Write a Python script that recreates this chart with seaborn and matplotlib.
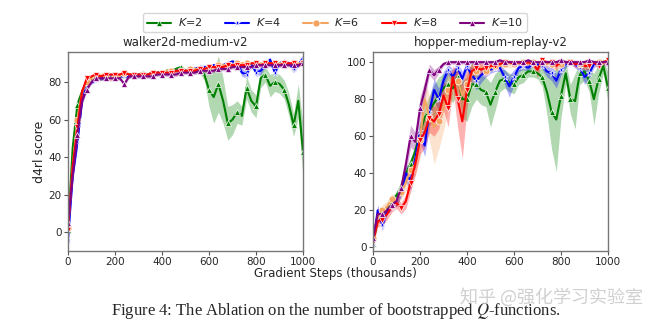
import numpy as np
import pandas as pd
import matplotlib
matplotlib.use("Agg")
import matplotlib.pyplot as plt
import seaborn as sns

# Evaluation points (thousands of gradient steps)
steps = list(range(0, 1001, 20))
k_values = [2, 4, 6, 8, 10]

# ---- walker2d-medium-v2: mean score and spread per ensemble size ----
walker_k2 = [1, 45, 68, 75, 80, 82, 82, 82, 83, 83, 84, 83, 84, 84, 84, 84, 85, 84, 85, 85,
             85, 86, 86, 87, 88, 86, 86, 86, 86, 84, 76, 72, 79, 70, 58, 60, 64, 62, 77, 70,
             67, 82, 84, 78, 80, 79, 76, 68, 57, 70, 43]
walker_k2_sd = [1, 3, 3, 2, 1, 1, 1, 1, 1, 1, 1, 1, 1, 1, 1, 1, 1, 1, 1, 1,
                1, 1, 1, 1, 1, 1, 1, 1, 1, 3, 9, 14, 15, 12, 9, 8, 6, 5, 6, 6,
                6, 5, 4, 6, 5, 5, 5, 6, 6, 9, 14]
walker_k4 = [-4, 30, 48, 70, 78, 80, 81, 82, 82, 83, 83, 83, 83, 83, 84, 84, 84, 84, 85, 85,
             85, 85, 86, 86, 86, 86, 87, 87, 88, 88, 88, 89, 89, 89, 90, 91, 90, 85, 84, 90,
             85, 86, 89, 92, 85, 90, 91, 90, 87, 89, 93]
walker_k4_sd = [2, 3, 3, 2, 1, 1, 1, 1, 1, 1, 1, 1, 1, 1, 1, 1, 1, 1, 1, 1,
                1, 1, 1, 1, 1, 1, 1, 1, 1, 1, 1, 1, 1, 1, 1, 1, 1, 2, 2, 1,
                2, 2, 1, 1, 2, 1, 1, 1, 2, 1, 1]
walker_k6 = [2, 35, 60, 75, 80, 82, 82, 83, 84, 82, 84, 83, 85, 84, 84, 84, 84, 84, 85, 85,
             85, 86, 86, 86, 86, 86, 87, 87, 87, 87, 88, 88, 89, 89, 89, 89, 90, 90, 90, 90,
             90, 90, 90, 90, 90, 90, 90, 89, 90, 90, 90]
walker_k6_sd = [2, 3, 3, 2, 1, 1, 2, 2, 2, 2, 1, 1, 1, 1, 1, 1, 1, 1, 1, 1,
                1, 1, 1, 1, 1, 1, 1, 1, 1, 1, 1, 1, 2, 1, 1, 1, 1, 1, 1, 1,
                1, 1, 1, 1, 1, 1, 1, 1, 1, 1, 1]
walker_k8 = [1, 35, 56, 75, 82, 83, 84, 83, 84, 84, 84, 84, 85, 84, 84, 84, 84, 84, 85, 85,
             85, 85, 85, 86, 86, 86, 86, 86, 87, 87, 88, 88, 88, 88, 89, 89, 89, 89, 89, 90,
             90, 89, 90, 90, 90, 89, 90, 90, 90, 89, 90]
walker_k8_sd = [1, 3, 3, 2, 1, 1, 1, 1, 1, 1, 1, 1, 1, 1, 1, 1, 1, 1, 1, 1,
                1, 1, 1, 1, 1, 1, 1, 1, 1, 1, 1, 1, 1, 1, 1, 1, 1, 1, 1, 1,
                1, 1, 1, 1, 1, 1, 1, 1, 1, 1, 1]
walker_k10 = [5, 30, 52, 70, 76, 80, 82, 82, 82, 82, 82, 82, 79, 83, 83, 83, 83, 83, 83, 84,
              84, 84, 84, 84, 85, 85, 85, 85, 86, 86, 86, 86, 87, 87, 87, 88, 88, 88, 88, 88,
              89, 89, 89, 89, 89, 89, 89, 89, 89, 89, 90]
walker_k10_sd = [2, 3, 3, 2, 1, 1, 1, 1, 1, 1, 1, 1, 1, 1, 1, 1, 1, 1, 1, 1,
                 1, 1, 1, 1, 1, 1, 1, 1, 1, 1, 1, 1, 1, 1, 1, 1, 1, 1, 1, 1,
                 1, 1, 1, 1, 1, 1, 1, 1, 1, 1, 1]

# ---- hopper-medium-replay-v2 ----
hopper_k2 = [2, 15, 18, 20, 25, 28, 33, 40, 45, 52, 62, 70, 74, 78, 82, 86, 88, 86, 92, 80,
             80, 88, 88, 85, 84, 77, 84, 90, 91, 89, 88, 92, 93, 95, 95, 94, 92, 84, 73, 69,
             82, 94, 80, 79, 94, 95, 90, 80, 91, 98, 86]
hopper_k2_sd = [1, 2, 2, 2, 2, 2, 3, 3, 3, 4, 5, 6, 8, 10, 10, 8, 6, 8, 8, 10,
                12, 12, 8, 8, 8, 12, 10, 6, 5, 5, 5, 4, 4, 3, 3, 3, 5, 12, 20, 28,
                12, 6, 8, 15, 6, 5, 6, 14, 8, 4, 8]
hopper_k4 = [2, 20, 12, 20, 22, 25, 30, 40, 36, 48, 63, 55, 73, 85, 80, 90, 96, 92, 97, 91,
             98, 93, 90, 93, 95, 96, 97, 97, 92, 87, 92, 97, 98, 97, 99, 99, 98, 95, 94, 90,
             96, 99, 100, 99, 97, 92, 94, 99, 100, 99, 99]
hopper_k4_sd = [2, 3, 3, 2, 2, 2, 3, 5, 5, 5, 6, 6, 8, 6, 6, 5, 3, 4, 3, 4,
                2, 4, 5, 4, 3, 2, 2, 2, 4, 6, 4, 2, 2, 2, 1, 1, 2, 3, 4, 4,
                3, 2, 1, 2, 2, 4, 3, 2, 1, 1, 1]
hopper_k6 = [5, 15, 20, 22, 26, 25, 30, 35, 42, 45, 58, 80, 70, 65, 68, 75, 85, 88, 90, 82,
             88, 93, 95, 97, 95, 97, 98, 98, 99, 99, 99, 100, 100, 99, 100, 100, 100, 99, 99, 98,
             99, 100, 100, 100, 99, 99, 100, 100, 100, 99, 100]
hopper_k6_sd = [3, 4, 3, 3, 3, 3, 4, 5, 6, 6, 10, 10, 12, 20, 15, 12, 10, 8, 6, 10,
                8, 6, 4, 3, 3, 2, 2, 2, 2, 2, 2, 1, 1, 2, 1, 1, 1, 2, 2, 3,
                2, 1, 1, 1, 2, 2, 1, 1, 1, 2, 1]
hopper_k8 = [3, 14, 15, 18, 22, 24, 21, 25, 35, 45, 58, 62, 70, 68, 72, 82, 75, 92, 80, 68,
             85, 95, 97, 96, 97, 98, 98, 99, 100, 100, 99, 100, 99, 100, 99, 96, 101, 100, 100, 98,
             100, 100, 100, 99, 99, 98, 98, 100, 98, 100, 101]
hopper_k8_sd = [2, 3, 3, 3, 3, 3, 3, 4, 5, 6, 8, 8, 8, 8, 8, 8, 10, 6, 15, 20,
                10, 4, 3, 3, 2, 2, 2, 1, 1, 1, 2, 1, 2, 1, 2, 4, 1, 1, 1, 2,
                1, 1, 1, 2, 2, 2, 2, 1, 2, 1, 1]
hopper_k10 = [5, 18, 18, 20, 23, 25, 32, 45, 60, 57, 75, 85, 96, 93, 96, 99, 100, 100, 100, 100,
              100, 100, 100, 100, 100, 100, 100, 101, 100, 100, 100, 100, 100, 101, 100, 100, 100, 100, 100, 100,
              101, 100, 100, 100, 100, 100, 101, 100, 100, 100, 100]
hopper_k10_sd = [2, 3, 2, 2, 2, 3, 4, 5, 6, 5, 6, 5, 3, 3, 2, 1, 1, 1, 1, 1,
                 1, 1, 1, 1, 1, 1, 1, 1, 1, 1, 1, 1, 1, 1, 1, 1, 1, 1, 1, 1,
                 1, 1, 1, 1, 1, 1, 1, 1, 1, 1, 1]

walker_means = [walker_k2, walker_k4, walker_k6, walker_k8, walker_k10]
walker_sds = [walker_k2_sd, walker_k4_sd, walker_k6_sd, walker_k8_sd, walker_k10_sd]
hopper_means = [hopper_k2, hopper_k4, hopper_k6, hopper_k8, hopper_k10]
hopper_sds = [hopper_k2_sd, hopper_k4_sd, hopper_k6_sd, hopper_k8_sd, hopper_k10_sd]

colors = ["green", "blue", "sandybrown", "red", "purple"]
markers = ["^", "*", "o", "v", "^"]


def long_frame(means, sds):
    rows = []
    for k, m, s in zip(k_values, means, sds):
        for x, v, d in zip(steps, m, s):
            rows.append({"step": x, "score": v, "sd": d, "K": f"$K$={k}"})
    return pd.DataFrame(rows)


sns.set_style("ticks")
plt.rcParams["font.family"] = ["DejaVu Sans"]

fig = plt.figure(figsize=(6.64, 3.30), dpi=100)
ax_w = fig.add_axes([68 / 664, 79 / 330, 235 / 664, 199 / 330])
ax_h = fig.add_axes([373 / 664, 79 / 330, 235 / 664, 199 / 330])

labels = [f"$K$={k}" for k in k_values]
palette = dict(zip(labels, colors))
marker_map = dict(zip(labels, markers))

panels = [
    (ax_w, walker_means, walker_sds, "walker2d-medium-v2", (-10, 96), [0, 20, 40, 60, 80]),
    (ax_h, hopper_means, hopper_sds, "hopper-medium-replay-v2", (-2, 105.5), [0, 20, 40, 60, 80, 100]),
]

for ax, means, sds, title, ylim, yticks in panels:
    df = long_frame(means, sds)
    for lab in labels:
        sub = df[df["K"] == lab]
        ax.fill_between(sub["step"], sub["score"] - sub["sd"], sub["score"] + sub["sd"],
                        color=palette[lab], alpha=0.3, linewidth=0)
    sns.lineplot(data=df, x="step", y="score", hue="K", style="K", palette=palette,
                 markers=marker_map, dashes=False, errorbar=None, ax=ax,
                 linewidth=1.5, markersize=5, markeredgewidth=0.5, markevery=2,
                 legend=(ax is ax_w))
    ax.set_xlim(0, 1000)
    ax.set_ylim(*ylim)
    ax.set_xticks([0, 200, 400, 600, 800, 1000])
    ax.set_yticks(yticks)
    ax.set_title(title, fontsize=8.5, pad=4)
    ax.set_xlabel("")
    ax.set_ylabel("")
    ax.tick_params(labelsize=7.5, length=3, width=0.8, color="#555555", pad=1.5)
    for sp in ax.spines.values():
        sp.set_visible(True)
        sp.set_color("#777777")
        sp.set_linewidth(1.0)

ax_w.set_ylabel("d4rl score", fontsize=9, labelpad=2)

handles, leg_labels = ax_w.get_legend_handles_labels()
ax_w.get_legend().remove()
fig.legend(handles, leg_labels, loc="center", bbox_to_anchor=(335 / 664, 1 - 22.5 / 330),
           ncol=5, fontsize=8, frameon=True, edgecolor="#cccccc", handlelength=2.2,
           columnspacing=2.0, borderpad=0.35, handletextpad=0.6, fancybox=True)

fig.text(335 / 664, 1 - 273 / 330, "Gradient Steps (thousands)", ha="center", va="center", fontsize=8.5)

fig.text(336 / 664, 1 - 311 / 330, "Figure 4: The Ablation on the number of bootstrapped $Q$-functions.",
         ha="center", va="center", fontsize=12, family="Liberation Serif",
         math_fontfamily="stix")

fig.text(551 / 664, 1 - 297 / 330, "知乎 @强化学习实验室", ha="center", va="center", fontsize=13,
         family=["Noto Sans CJK SC", "DejaVu Sans"], color="#c8c8c8", alpha=0.85)

fig.savefig("out.png", dpi=100)
